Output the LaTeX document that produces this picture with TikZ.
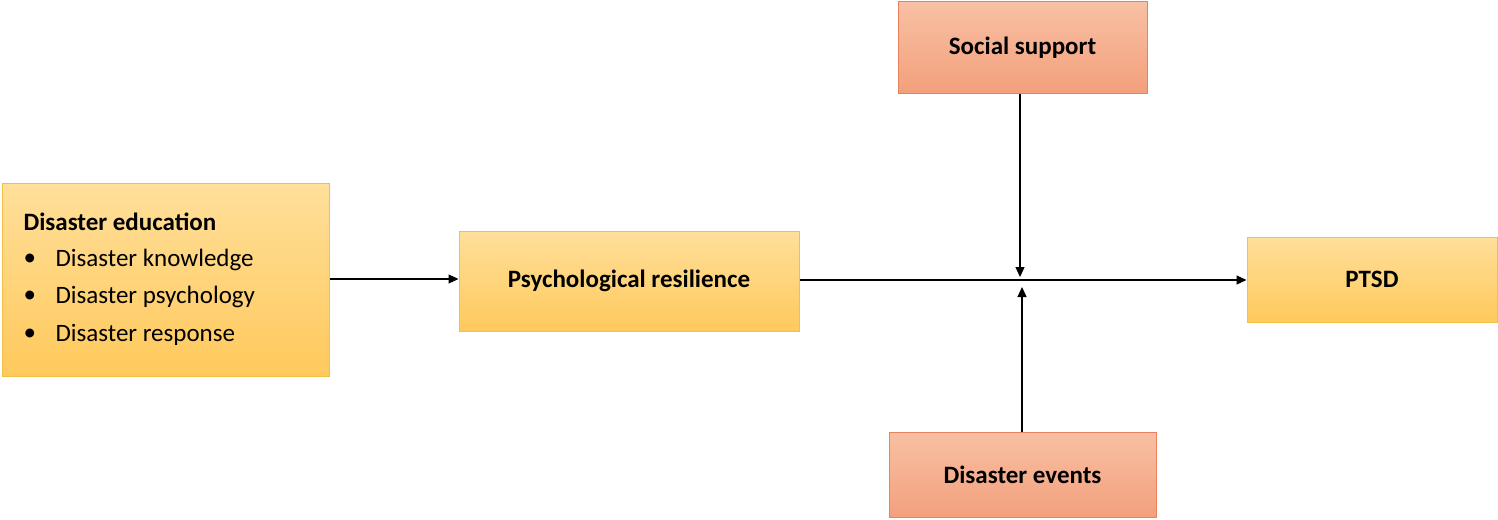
\documentclass[tikz,border=0pt]{standalone}
\usepackage{fontspec}
\setmainfont{Carlito}
\usetikzlibrary{arrows.meta}
\definecolor{ytop}{HTML}{FFDF9A}\definecolor{ybot}{HTML}{FFC95C}\definecolor{ydraw}{HTML}{F2C046}
\definecolor{stop}{HTML}{F8C0A4}\definecolor{sbot}{HTML}{F3A07C}\definecolor{sdraw}{HTML}{E8825E}
\begin{document}
\begin{tikzpicture}[x=1pt,y=-1pt,
 ybox/.style={draw=ydraw,line width=1pt,top color=ytop,bottom color=ybot,inner sep=0},
 sbox/.style={draw=sdraw,line width=1pt,top color=stop,bottom color=sbot,inner sep=0},
 lab/.style={font=\fontsize{25}{30}\selectfont\bfseries},
 txt/.style={font=\fontsize{25}{30}\selectfont,anchor=west},
 arr/.style={line width=1.2pt,-{Triangle[length=10pt,width=9pt]}}]
\useasboundingbox (0,0) rectangle (1498,519);
\node[ybox,minimum width=327,minimum height=193] (edu) at (165.5,279.5) {};
\node[lab,anchor=west] (t0) at (20,222) {Disaster education};
\node[txt] (b1) at (20,260) {\textbullet};
\node[txt] (t1) at (52,260) {Disaster knowledge};
\node[txt] (b2) at (20,297) {\textbullet};
\node[txt] (t2) at (52,297) {Disaster psychology};
\node[txt] (b3) at (20,335) {\textbullet};
\node[txt] (t3) at (52,335) {Disaster response};
\node[ybox,minimum width=340,minimum height=100,lab] (psy) at (629,281) {Psychological resilience};
\node[ybox,minimum width=250,minimum height=85,lab] (ptsd) at (1372,279.5) {PTSD};
\node[sbox,minimum width=249,minimum height=91,lab] (soc) at (1022.5,47.5) {Social support};
\node[sbox,minimum width=267,minimum height=85,lab] (ev) at (1022.5,474.5) {Disaster events};
\coordinate (m1) at (1020,277);
\coordinate (m2) at (1022,287);
\draw[arr] (edu.east |- 0,279) -- (psy.west |- 0,279);
\draw[arr] (psy.east |- 0,280) -- (ptsd.west |- 0,280);
\draw[arr] (soc.south -| m1) -- (m1);
\draw[arr] (ev.north -| m2) -- (m2);
\end{tikzpicture}
\end{document}
